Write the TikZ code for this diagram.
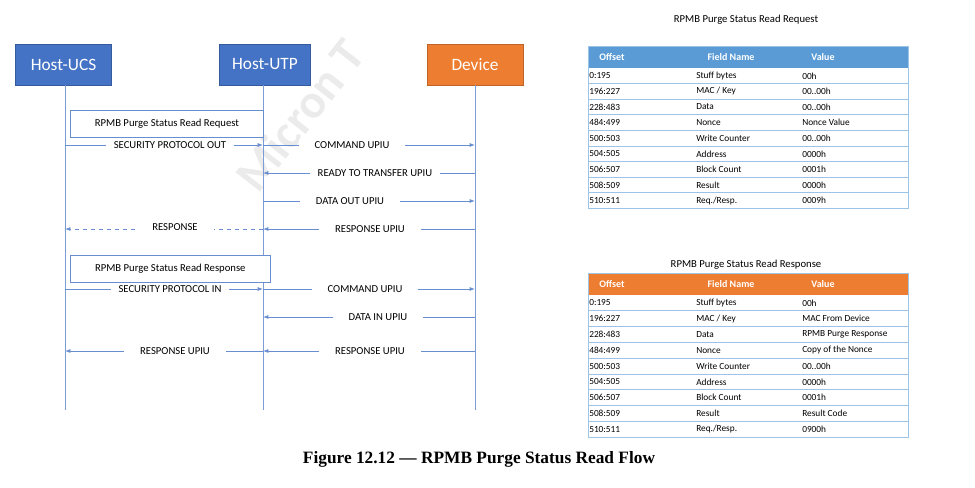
\documentclass[tikz,border=0pt]{standalone}
\usepackage{fontspec}
\setmainfont{Carlito}
\newfontfamily\capfont{Liberation Serif}
\usetikzlibrary{arrows.meta}
\definecolor{hblue}{HTML}{4472C4}
\definecolor{lblue}{HTML}{5B9BD5}
\definecolor{dorange}{HTML}{ED7D31}
\definecolor{grid}{HTML}{9DC3E6}
\begin{document}
\begin{tikzpicture}[x=0.75pt,y=-0.75pt,
  actor/.style={draw=hblue!80!black,fill=hblue,text=white,font=\fontsize{13}{15}\selectfont,minimum width=72pt,minimum height=31pt,inner sep=0pt},
  life/.style={draw=hblue!70,line width=0.6pt},
  msg/.style={draw=hblue!80,line width=0.6pt,-{Latex[length=4pt,width=3pt]}},
  lab/.style={fill=white,font=\fontsize{8}{9}\selectfont,inner sep=1.5pt},
  note/.style={draw=hblue!80,fill=white,font=\fontsize{8}{9}\selectfont,anchor=west,minimum height=20pt,inner sep=3pt},
  cell/.style={font=\fontsize{7}{8}\selectfont,anchor=west,inner sep=0pt},
  hcell/.style={font=\bfseries\fontsize{7.5}{9}\selectfont,text=white,inner sep=0pt}]
\useasboundingbox (0,0) rectangle (975,488);
\node[rotate=52,text=black!8,font=\bfseries\fontsize{36}{36}\selectfont] (wm) at (300,115) {Micron T};
% actors
\node[actor] (ucs) at (63.5,64.5) {Host-UCS};
\node[actor,minimum width=68pt] (utp) at (265,64.5) {Host-UTP};
\node[actor,fill=dorange,draw=dorange!80!black] (dev) at (475,64.5) {Device};
\coordinate (ucsE) at (65,410); \coordinate (utpE) at (263,410); \coordinate (devE) at (475,410);
\draw[life] (65,85) -- (ucsE);
\draw[life] (263,85) -- (utpE);
\draw[life] (475,85) -- (devE);
\foreach \y/\n in {145/a,173/b,201/c,229/d,289/e,317/f,351/g}{
  \coordinate (u\n) at (65,\y); \coordinate (t\n) at (263,\y); \coordinate (d\n) at (475,\y);}
\node[note,minimum width=145pt] (n1) at (70,123.5) {RPMB Purge Status Read Request};
\node[note,minimum width=150pt] (n2) at (70,268.5) {RPMB Purge Status Read Response};
\draw[msg] (ua) -- (ta); \node[lab,inner xsep=6pt] (l1) at (170,145) {SECURITY PROTOCOL OUT};
\draw[msg] (ta) -- (da); \node[lab,inner xsep=12pt] (l2) at (352,145) {COMMAND UPIU};
\draw[msg] (db) -- (tb); \node[lab,inner xsep=6pt] (l3) at (375,173) {READY TO TRANSFER UPIU};
\draw[msg] (tc) -- (dc); \node[lab,inner xsep=12pt] (l4) at (350,201) {DATA OUT UPIU};
\draw[msg] (dd) -- (td); \node[lab,inner xsep=12pt] (l5) at (370,229) {RESPONSE UPIU};
\draw[msg,dashed] (td) -- (ud); \node[lab,inner xsep=12pt] (l6) at (175,227) {RESPONSE};
\draw[msg] (ue) -- (te); \node[lab,inner xsep=6pt] (l7) at (170,289) {SECURITY PROTOCOL IN};
\draw[msg] (te) -- (de); \node[lab,inner xsep=12pt] (l8) at (365,289) {COMMAND UPIU};
\draw[msg] (df) -- (tf); \node[lab,inner xsep=12pt] (l9) at (378,317) {DATA IN UPIU};
\draw[msg] (dg) -- (tg); \node[lab,inner xsep=12pt] (l10) at (370,351) {RESPONSE UPIU};
\draw[msg] (tg) -- (ug); \node[lab,inner xsep=12pt] (l11) at (175,351) {RESPONSE UPIU};
% table 1
\node[font=\fontsize{8}{10}\selectfont] (t1) at (746,20) {RPMB Purge Status Read Request};
\fill[lblue] (588,46) rectangle (908,68);
\node[hcell] (h1a) at (612,57) {Offset}; \node[hcell] (h1b) at (731,57) {Field Name}; \node[hcell] (h1c) at (823,57) {Value};
\foreach [count=\i] \o/\f/\v in {0:195/Stuff bytes/00h,196:227/{MAC / Key}/00..00h,228:483/Data/00..00h,484:499/Nonce/Nonce Value,500:503/Write Counter/00..00h,504:505/Address/0000h,506:507/Block Count/0001h,508:509/Result/0000h,510:511/{Req./Resp.}/0009h}{
  \pgfmathsetmacro\yy{68+(\i-0.5)*15.6}
  \node[cell] at (589,\yy) {\o}; \node[cell] at (696,\yy) {\f}; \node[cell] at (802,\yy) {\v};
  \draw[grid,line width=0.5pt] (588,68+\i*15.6) -- (908,68+\i*15.6);}
\draw[grid,line width=0.6pt] (588,46) rectangle (908,208.4);
% table 2
\node[font=\fontsize{8}{10}\selectfont] (t2) at (746,265) {RPMB Purge Status Read Response};
\fill[dorange] (588,273) rectangle (908,295);
\node[hcell] (h2a) at (612,284) {Offset}; \node[hcell] (h2b) at (731,284) {Field Name}; \node[hcell] (h2c) at (823,284) {Value};
\foreach [count=\i] \o/\f/\v in {0:195/Stuff bytes/00h,196:227/{MAC / Key}/MAC From Device,228:483/Data/RPMB Purge Response,484:499/Nonce/Copy of the Nonce,500:503/Write Counter/00..00h,504:505/Address/0000h,506:507/Block Count/0001h,508:509/Result/Result Code,510:511/{Req./Resp.}/0900h}{
  \pgfmathsetmacro\yy{295+(\i-0.5)*15.8}
  \node[cell] at (589,\yy) {\o}; \node[cell] at (696,\yy) {\f}; \node[cell] at (802,\yy) {\v};
  \draw[grid,line width=0.5pt] (588,295+\i*15.8) -- (908,295+\i*15.8);}
\draw[grid,line width=0.6pt] (588,273) rectangle (908,437.2);
\node[font=\capfont\bfseries\fontsize{13}{15}\selectfont] (cap) at (479,459) {Figure 12.12 — RPMB Purge Status Read Flow};
\end{tikzpicture}
\end{document}
